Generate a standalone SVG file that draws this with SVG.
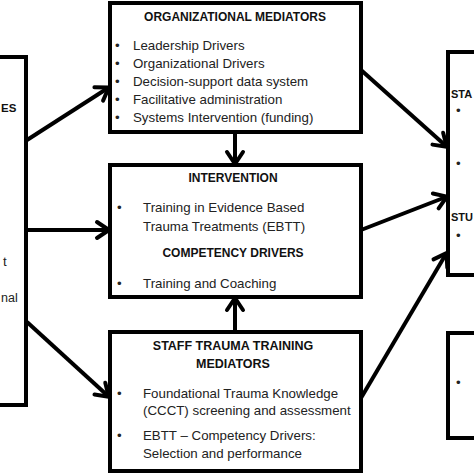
<svg xmlns="http://www.w3.org/2000/svg" width="474" height="474" viewBox="0 0 474 474">
<defs>
<style>
.box{fill:#fff;stroke:#000;stroke-width:4}
.t{font-family:"Liberation Sans",Arial,sans-serif;font-size:13.3px;fill:#222}
.h{font-family:"Liberation Sans",Arial,sans-serif;font-size:12px;font-weight:bold;fill:#111}
.c{text-anchor:middle}
.e{text-anchor:end}
.ln{stroke:#000;stroke-width:4;fill:none}
</style>
<marker id="ah" markerUnits="userSpaceOnUse" markerWidth="30" markerHeight="30" viewBox="-20 -15 30 30" refX="-1" refY="0" orient="auto">
<path d="M -12 -8 L 0 0 L -12 8" fill="none" stroke="#000" stroke-width="4" stroke-linecap="round" stroke-linejoin="round"/>
</marker>
</defs>
<rect width="474" height="474" fill="#fff"/>
<g id="connectors">
<line class="ln" x1="27" y1="140" x2="108" y2="88" marker-end="url(#ah)"/>
<line class="ln" x1="27" y1="230" x2="108" y2="230" marker-end="url(#ah)"/>
<line class="ln" x1="27" y1="322" x2="108" y2="396" marker-end="url(#ah)"/>
<line class="ln" x1="361" y1="70" x2="446" y2="146" marker-end="url(#ah)"/>
<line class="ln" x1="361" y1="230" x2="446" y2="197" marker-end="url(#ah)"/>
<line class="ln" x1="361" y1="398" x2="446" y2="254" marker-end="url(#ah)"/>
<line class="ln" x1="235" y1="133" x2="235" y2="163" marker-end="url(#ah)"/>
<line class="ln" x1="235" y1="331" x2="235" y2="299" marker-end="url(#ah)"/>
</g>
<g id="left-box">
<rect class="box" x="-20" y="57" width="46" height="348"/>
<text class="h" x="1" y="112" style="font-size:11.5px">ES</text>
<text class="t" x="3" y="266">t</text>
<text class="t" x="1" y="302" style="font-size:12.5px">nal</text>
</g>
<g id="organizational-mediators">
<rect class="box" x="110" y="3" width="251" height="129"/>
<text class="h c" x="235" y="21">ORGANIZATIONAL MEDIATORS</text>
<text class="t" x="115" y="50">•</text><text class="t" x="133" y="50">Leadership Drivers</text>
<text class="t" x="115" y="68">•</text><text class="t" x="133" y="68">Organizational Drivers</text>
<text class="t" x="115" y="86">•</text><text class="t" x="133" y="86">Decision-support data system</text>
<text class="t" x="115" y="104">•</text><text class="t" x="133" y="104">Facilitative administration</text>
<text class="t" x="115" y="122">•</text><text class="t" x="133" y="122">Systems Intervention (funding)</text>
</g>
<g id="intervention">
<rect class="box" x="110" y="165" width="251" height="132"/>
<text class="h c" x="233" y="182">INTERVENTION</text>
<text class="t" x="117" y="212">•</text><text class="t" x="143" y="212">Training in Evidence Based</text>
<text class="t" x="143" y="231">Trauma Treatments (EBTT)</text>
<text class="h c" x="233" y="257">COMPETENCY DRIVERS</text>
<text class="t" x="117" y="288">•</text><text class="t" x="143" y="288">Training and Coaching</text>
</g>
<g id="staff-trauma-training-mediators">
<rect class="box" x="110" y="332" width="251" height="139"/>
<text class="h c" x="233" y="350" style="font-size:12.5px">STAFF TRAUMA TRAINING</text>
<text class="h c" x="233" y="368" style="font-size:12.5px">MEDIATORS</text>
<text class="t" x="117" y="398">•</text><text class="t" x="143" y="398">Foundational Trauma Knowledge</text>
<text class="t" x="143" y="415">(CCCT) screening and assessment</text>
<text class="t" x="117" y="440">•</text><text class="t" x="143" y="440">EBTT – Competency Drivers:</text>
<text class="t" x="143" y="458">Selection and performance</text>
</g>
<g id="outcomes-box">
<rect class="box" x="448" y="52" width="40" height="223"/>
<text class="h" x="451" y="98" style="font-size:11px">STA</text>
<text class="t" x="456" y="115">•</text>
<text class="t" x="456" y="168">•</text>
<text class="h" x="451" y="221" style="font-size:11px">STU</text>
<text class="t" x="456" y="240">•</text>
</g>
<g id="lower-right-box">
<rect class="box" x="448" y="333" width="40" height="105"/>
<text class="t" x="456" y="387">•</text>
</g>
</svg>
